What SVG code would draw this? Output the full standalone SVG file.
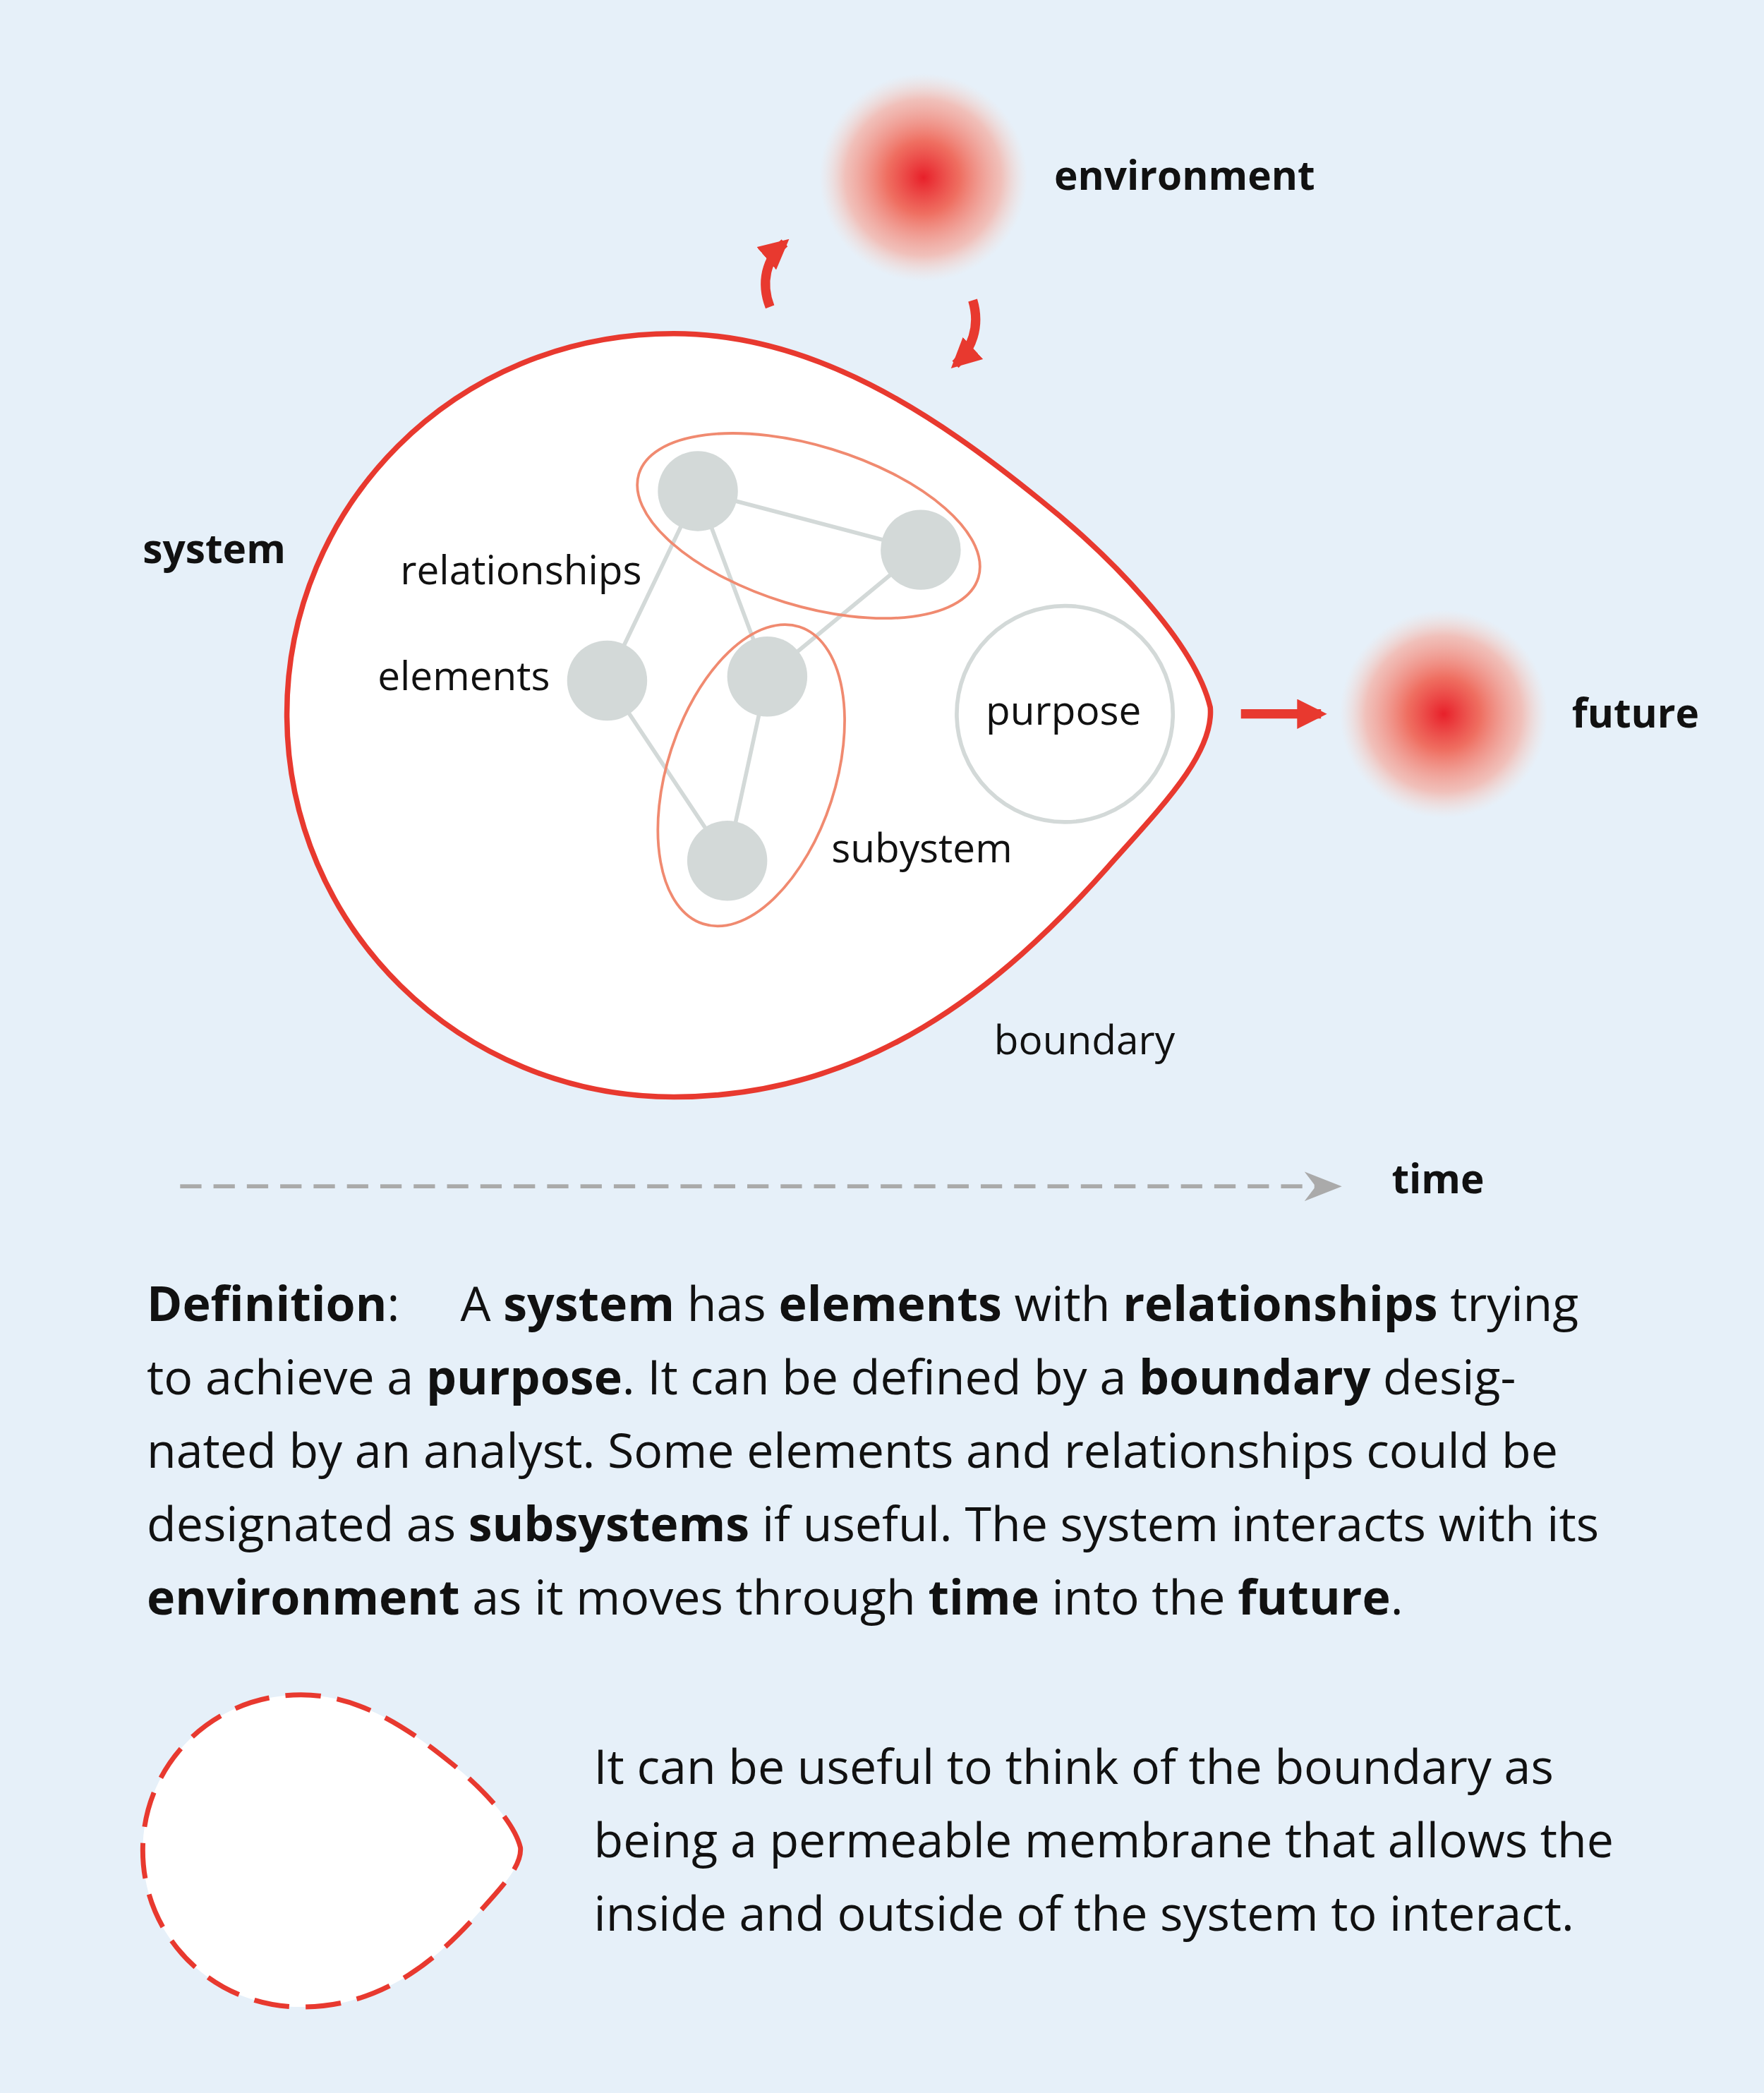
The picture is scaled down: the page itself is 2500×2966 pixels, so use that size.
<svg xmlns="http://www.w3.org/2000/svg" width="2500" height="2966" viewBox="0 0 2500 2966">
<style>
text{font-family:"Open Sans","Noto Sans",sans-serif;fill:#111}
.l{font-size:30px}
.b{font-weight:bold}
.p{font-size:36px}
.node{fill:#d3d9d8}
.link{stroke:#d3d9d8;stroke-width:3;fill:none}
.red{stroke:#e8392f;fill:none}
</style>
<defs>
<radialGradient id="glow">
<stop offset="0" stop-color="#e8202a"/>
<stop offset="0.35" stop-color="#f06050" stop-opacity="0.9"/>
<stop offset="0.75" stop-color="#f7a090" stop-opacity="0.6"/>
<stop offset="1" stop-color="#fbd0c0" stop-opacity="0"/>
</radialGradient>
<marker id="ah" viewBox="0 0 10 10" refX="8" refY="5" markerWidth="3.2" markerHeight="3.2" orient="auto"><path d="M0,0L10,5L0,10z" fill="#e8392f"/></marker>
<marker id="ag" viewBox="0 0 10 10" refX="8" refY="5" markerWidth="28" markerHeight="22" orient="auto" markerUnits="userSpaceOnUse" preserveAspectRatio="none"><path d="M0,0L10,5L0,10L3,5z" fill="#aaa"/></marker>
<path id="blob" d="M907,530 C895,480 830,415 780,375 C700,310 610,250 505,250 C340,250 215,380 215,535 C215,695 345,822 505,822 C650,822 750,740 830,650 C870,605 910,565 907,530 Z"/>
</defs>
<rect width="2500" height="2966" fill="#e6f0f9"/>
<g transform="scale(1.8911)">
<g id="environment"><circle cx="692" cy="133" r="78" fill="url(#glow)"/><text x="790" y="142" class="l b">environment</text></g>
<g id="future"><circle cx="1082" cy="535" r="78" fill="url(#glow)"/><text x="1178" y="545" class="l b">future</text></g>
<g id="system"><use href="#blob" fill="#fff" stroke="#e8392f" stroke-width="4"/><text x="107" y="422" class="l b">system</text><text x="745" y="790" class="l">boundary</text></g>
<g id="connectors">
<path class="red" stroke-width="7" d="M577,230 C570,212 574,194 588,182" marker-end="url(#ah)"/>
<path class="red" stroke-width="7" d="M729,225 C735,245 728,262 716,273" marker-end="url(#ah)"/>
<path class="red" stroke-width="7" d="M930,535 L990,535" marker-end="url(#ah)"/>
<path d="M135,889 L1000,889" stroke="#aaa" stroke-width="3" stroke-dasharray="16,9" fill="none" marker-end="url(#ag)"/>
<path class="link" d="M523,368L690,412M523,368L455,510M523,368L575,507M690,412L575,507M455,510L545,645M575,507L545,645"/>
</g>
<g id="subsystems">
<ellipse cx="606" cy="394" rx="133" ry="60" transform="rotate(17 606 394)" fill="none" stroke="#f08a70" stroke-width="2"/>
<ellipse cx="563" cy="581" rx="63" ry="117" transform="rotate(18 563 581)" fill="none" stroke="#f08a70" stroke-width="2"/>
</g>
<g id="elements">
<circle class="node" cx="523" cy="368" r="30"/><circle class="node" cx="690" cy="412" r="30"/><circle class="node" cx="455" cy="510" r="30"/><circle class="node" cx="575" cy="507" r="30"/><circle class="node" cx="545" cy="645" r="30"/>
<text x="300" y="438" class="l">relationships</text><text x="283" y="517" class="l">elements</text><text x="623" y="646" class="l">subystem</text>
</g>
<g id="purpose"><circle cx="798" cy="535" r="81" fill="#fff" stroke="#d3d9d8" stroke-width="3"/><text x="797" y="543" class="l" text-anchor="middle">purpose</text></g>
<text x="1043" y="894" class="l b">time</text>
<g id="definition" class="p">
<text x="110" y="990"><tspan class="b">Definition</tspan>:<tspan x="345">A </tspan><tspan class="b">system</tspan> has <tspan class="b">elements</tspan> with <tspan class="b">relationships</tspan> trying</text>
<text x="110" y="1045">to achieve a <tspan class="b">purpose</tspan>. It can be defined by a <tspan class="b">boundary</tspan> desig-</text>
<text x="110" y="1100">nated by an analyst. Some elements and relationships could be</text>
<text x="110" y="1155">designated as <tspan class="b">subsystems</tspan> if useful. The system interacts with its</text>
<text x="110" y="1210"><tspan class="b">environment</tspan> as it moves through <tspan class="b">time</tspan> into the <tspan class="b">future</tspan>.</text>
</g>
<g id="membrane"><use href="#blob" transform="translate(107,1270) scale(0.409) translate(-215,-250)" fill="#fff" stroke="#e8392f" stroke-width="9" stroke-dasharray="65,30"/></g>
<g class="p">
<text x="445" y="1337">It can be useful to think of the boundary as</text>
<text x="445" y="1392">being a permeable membrane that allows the</text>
<text x="445" y="1447">inside and outside of the system to interact.</text>
</g>
</g>
</svg>
